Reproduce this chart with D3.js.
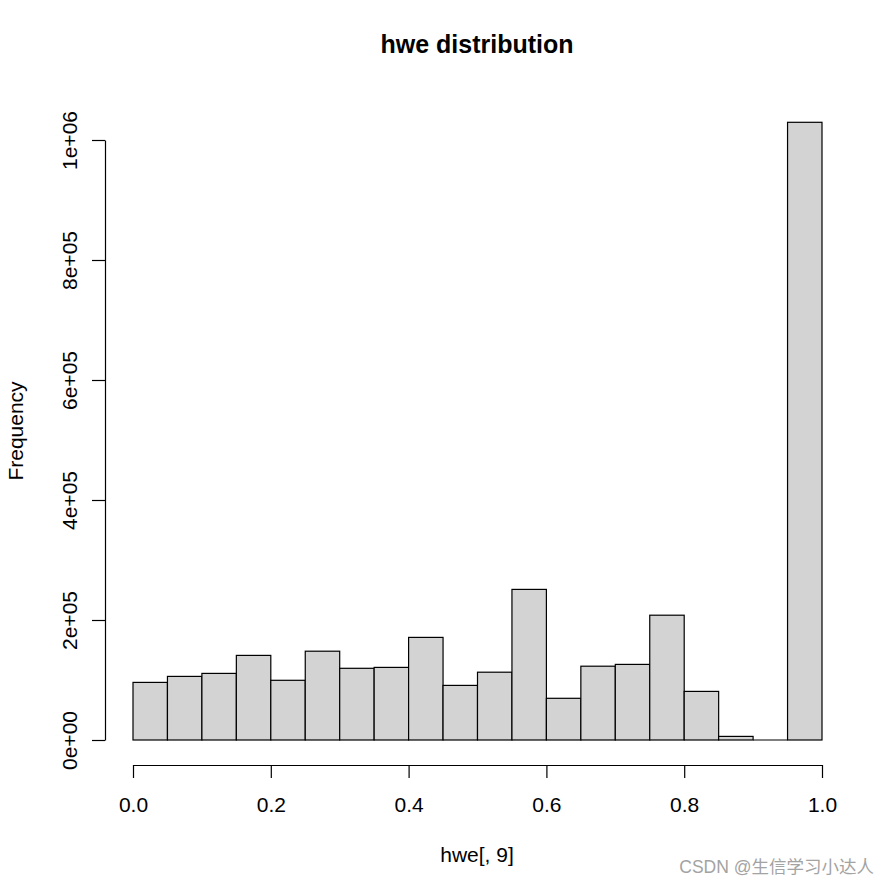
<!DOCTYPE html>
<html>
<head>
<meta charset="utf-8">
<script src="https://cdn.jsdelivr.net/npm/d3@7/dist/d3.min.js"></script>
<style>
  html, body { margin: 0; padding: 0; background: #fff; }
  svg { display: block; font-family: "Liberation Sans", Arial, sans-serif; }
</style>
</head>
<body>
<svg id="chart" width="890" height="888"></svg>
<script>
// Histogram bin edges (left) and counts
const binStarts = [0.00,0.05,0.10,0.15,0.20,0.25,0.30,0.35,0.40,0.45,0.50,0.55,0.60,0.65,0.70,0.75,0.80,0.85,0.90,0.95];
const binWidth = 0.05;
const counts = [96000,106000,111000,141000,99500,148000,119500,121000,171000,91000,113000,251000,69500,123000,126000,208000,81000,6000,0,1029500];
const xTicks = [0, 0.2, 0.4, 0.6, 0.8, 1.0];
const xTickLabels = ["0.0","0.2","0.4","0.6","0.8","1.0"];
const yTicks = [0, 200000, 400000, 600000, 800000, 1000000];
const yTickLabels = ["0e+00","2e+05","4e+05","6e+05","8e+05","1e+06"];
const titleText = "hwe distribution";
const xLabel = "hwe[, 9]";
const yLabel = "Frequency";
const watermark = "CSDN @生信学习小达人";

const svg = d3.select("#chart");
const x = d3.scaleLinear().domain([0, 1]).range([133, 822]);
const y = d3.scaleLinear().domain([0, 1000000]).range([740, 140]);

// bars (zero-count bins drawn as a flat outline, like R's hist)
svg.append("g").selectAll("rect")
  .data(binStarts.map((s, i) => ({s, c: counts[i]})))
  .join("rect")
  .attr("x", d => x(d.s))
  .attr("y", d => y(d.c))
  .attr("width", d => x(d.s + binWidth) - x(d.s))
  .attr("height", d => y(0) - y(d.c))
  .attr("fill", "#d3d3d3")
  .attr("stroke", "#000")
  .attr("stroke-width", 1.2);
// zero-height bins: draw line explicitly (rect with height 0 renders no stroke in some engines)
svg.append("g").selectAll("line")
  .data(binStarts.map((s, i) => ({s, c: counts[i]})).filter(d => d.c === 0))
  .join("line")
  .attr("x1", d => x(d.s)).attr("x2", d => x(d.s + binWidth))
  .attr("y1", y(0)).attr("y2", y(0))
  .attr("stroke", "#000").attr("stroke-width", 1.2);

// x axis
const xAxis = d3.axisBottom(x).tickValues(xTicks)
  .tickFormat((d, i) => xTickLabels[i]).tickSize(13).tickSizeOuter(0);
const gx = svg.append("g").attr("transform", "translate(0,765)").call(xAxis);
gx.select(".domain").attr("stroke", "#000").attr("stroke-width", 1.2);
gx.selectAll(".tick line").attr("stroke", "#000").attr("stroke-width", 1.2);
gx.selectAll(".tick text").attr("font-size", 21).attr("fill", "#000")
  .attr("font-family", "'Liberation Sans', Arial, sans-serif")
  .attr("dy", null).attr("y", 47);

// y axis
const yAxis = d3.axisLeft(y).tickValues(yTicks)
  .tickFormat((d, i) => yTickLabels[i]).tickSize(13).tickSizeOuter(0);
const gy = svg.append("g").attr("transform", "translate(105,0)").call(yAxis);
gy.select(".domain").attr("stroke", "#000").attr("stroke-width", 1.2);
gy.selectAll(".tick line").attr("stroke", "#000").attr("stroke-width", 1.2);
gy.selectAll(".tick text")
  .attr("font-size", 21).attr("fill", "#000")
  .attr("font-family", "'Liberation Sans', Arial, sans-serif")
  .attr("x", null).attr("dy", null)
  .attr("text-anchor", "middle")
  .attr("transform", "translate(-28,0) rotate(-90)")
  .attr("y", 0);

// title
svg.append("text").attr("x", 477).attr("y", 53)
  .attr("text-anchor", "middle").attr("font-size", 25).attr("font-weight", "bold")
  .text(titleText);

// x label
svg.append("text").attr("x", 477).attr("y", 862)
  .attr("text-anchor", "middle").attr("font-size", 21)
  .text(xLabel);

// y label
svg.append("text").attr("transform", "translate(23,431) rotate(-90)")
  .attr("text-anchor", "middle").attr("font-size", 21)
  .text(yLabel);

// watermark
svg.append("text").attr("x", 874).attr("y", 873)
  .attr("text-anchor", "end").attr("font-size", 17.5).attr("fill", "#a3a3a3")
  .attr("font-family", "'Liberation Sans', 'Noto Sans CJK SC', sans-serif")
  .text(watermark);
</script>
</body>
</html>
